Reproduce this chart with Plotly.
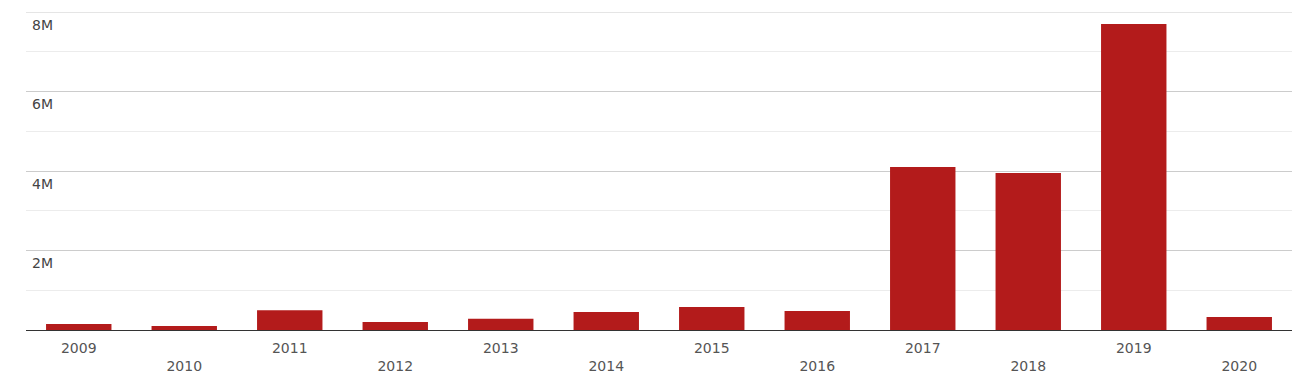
import plotly.graph_objects as go

years = ["2009", "2010", "2011", "2012", "2013", "2014", "2015", "2016", "2017", "2018", "2019", "2020"]
values = [150000, 100000, 500000, 200000, 280000, 450000, 580000, 480000, 4100000, 3950000, 7700000, 330000]
ytick_vals = [2e6, 4e6, 6e6, 8e6]
ytick_text = ["2M", "4M", "6M", "8M"]
minor_vals = [1e6, 3e6, 5e6, 7e6]

xtick_text = [y if i % 2 == 0 else "<br>" + y for i, y in enumerate(years)]

fig = go.Figure(go.Bar(x=years, y=values, marker_color="#b31b1b", marker_line_width=0))
fig.update_layout(
    width=1293, height=384,
    margin=dict(l=26, r=1, t=12, b=54),
    paper_bgcolor="white", plot_bgcolor="white",
    bargap=0.38,
    showlegend=False,
    font=dict(family="DejaVu Sans", size=14, color="#444"),
)
fig.update_xaxes(
    tickmode="array", tickvals=years, ticktext=xtick_text,
    range=[-0.5, len(years) - 0.5],
    showgrid=False, showline=True, linecolor="#333", linewidth=1,
    ticks="", tickfont=dict(size=14, color="#555"), ticklabelstandoff=5,
)
fig.update_yaxes(
    range=[0, 8e6], tickmode="array", tickvals=ytick_vals, ticktext=ytick_text,
    ticklabelposition="inside bottom", showgrid=True, gridcolor="#cccccc", gridwidth=1,
    zeroline=False, showline=False, ticks="",
    tickfont=dict(size=14, color="#444"), ticklabelstandoff=3, ticklabelshift=3,
    minor=dict(tickvals=minor_vals, showgrid=True, gridcolor="#ececec", gridwidth=1),
)
fig.add_shape(type="line", xref="paper", yref="y", x0=0, x1=1, y0=8e6, y1=8e6,
              line=dict(color="#cccccc", width=1), layer="below")
fig.write_html("out.html")
